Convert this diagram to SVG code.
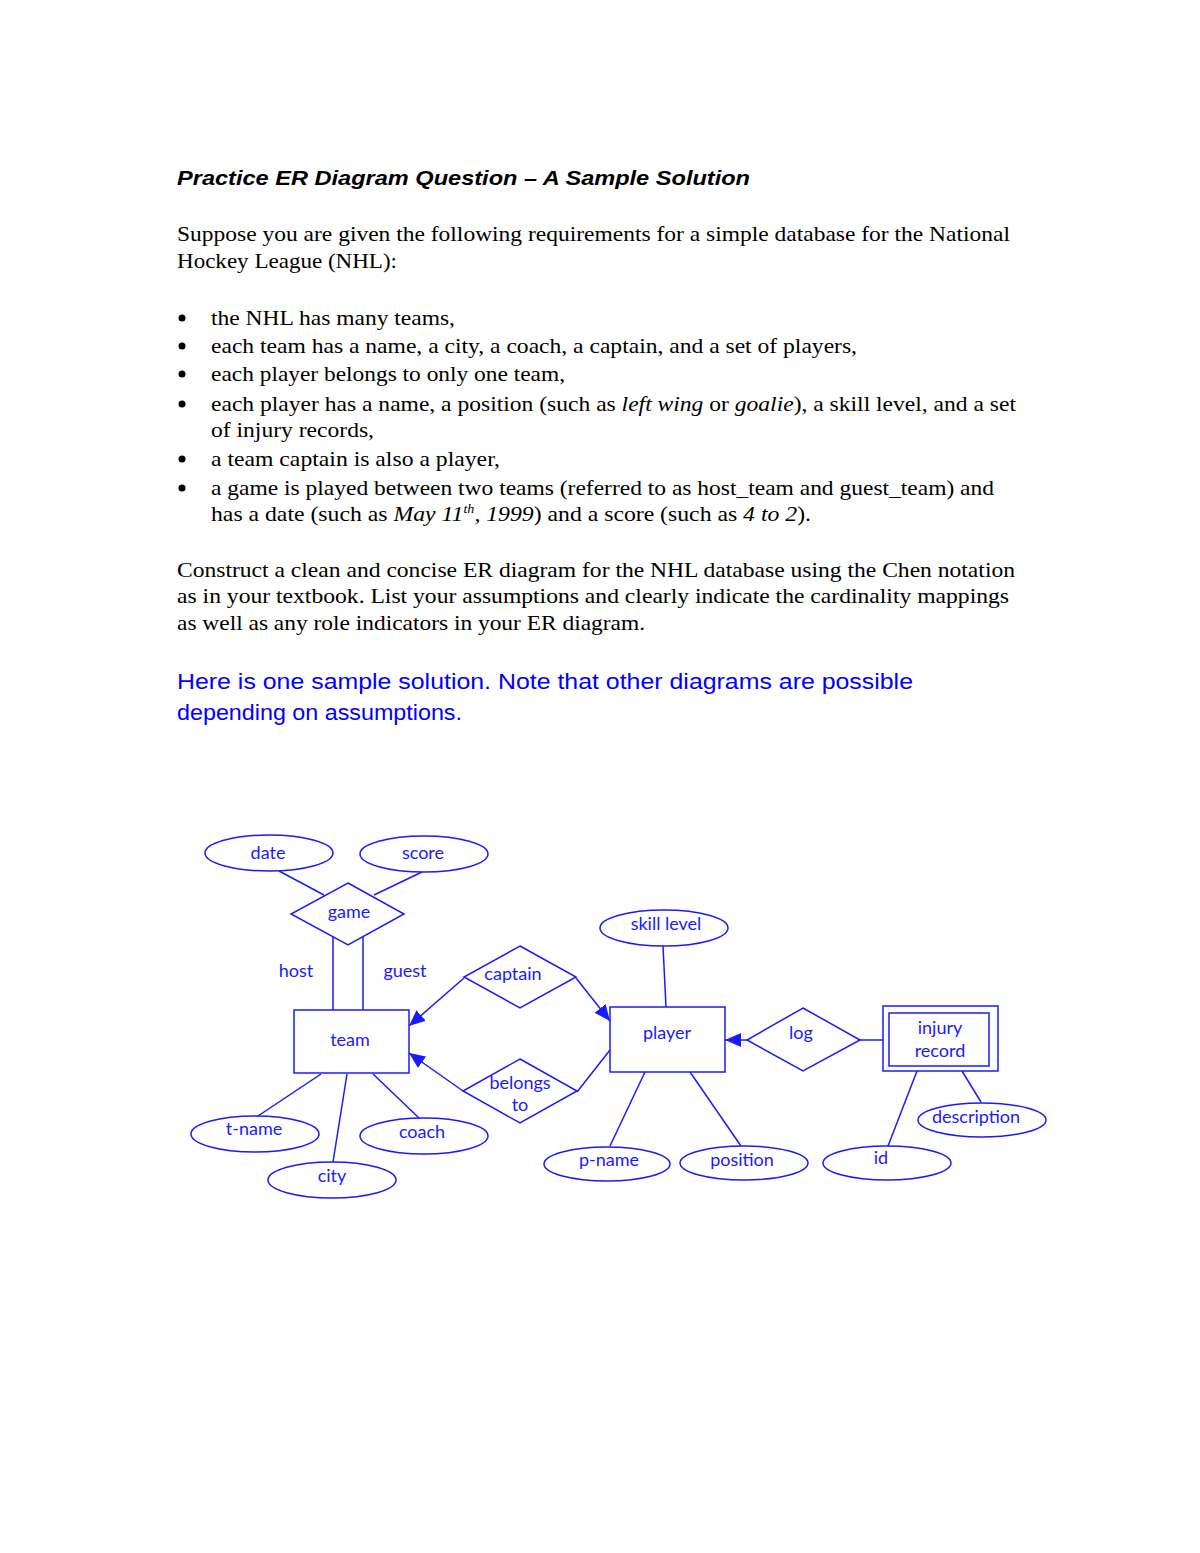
<svg xmlns="http://www.w3.org/2000/svg" width="1200" height="1553" viewBox="0 0 1200 1553">
<style>
.title{font-family:"Liberation Sans",Arial,sans-serif;font-weight:bold;font-style:italic;font-size:21px;fill:#000}
.body{font-family:"Liberation Serif","Times New Roman",serif;font-size:22px;fill:#000}
.blue{font-family:"Liberation Sans",Arial,sans-serif;font-size:22px;fill:#0000ff}
.shape{fill:none;stroke:#1a1aff;stroke-width:1.5}
.lbl{font-family:Lato,"Open Sans",sans-serif;font-size:18px;fill:#1a1aff;text-anchor:middle}
.conn line{stroke:#1a1aff;stroke-width:1.5}
</style>
<defs>
<marker id="arr" markerUnits="userSpaceOnUse" markerWidth="18" markerHeight="14" refX="16" refY="7" orient="auto">
<path d="M0,0 L16,7 L0,14 Z" fill="#1a1aff"/>
</marker>
</defs>
<rect width="1200" height="1553" fill="#fff"/>

<g id="text">
<text class="title" x="177" y="185" textLength="573" lengthAdjust="spacingAndGlyphs">Practice ER Diagram Question – A Sample Solution</text>
<text class="body" x="177" y="241" textLength="833" lengthAdjust="spacingAndGlyphs">Suppose you are given the following requirements for a simple database for the National</text>
<text class="body" x="177" y="268" textLength="220" lengthAdjust="spacingAndGlyphs">Hockey League (NHL):</text>
<g fill="#000">
<circle cx="182" cy="318" r="3.5"/>
<circle cx="182" cy="346" r="3.5"/>
<circle cx="182" cy="374" r="3.5"/>
<circle cx="182" cy="404" r="3.5"/>
<circle cx="182" cy="459" r="3.5"/>
<circle cx="182" cy="488" r="3.5"/>
</g>
<text class="body" x="211" y="325" textLength="244" lengthAdjust="spacingAndGlyphs">the NHL has many teams,</text>
<text class="body" x="211" y="353" textLength="646" lengthAdjust="spacingAndGlyphs">each team has a name, a city, a coach, a captain, and a set of players,</text>
<text class="body" x="211" y="381" textLength="354" lengthAdjust="spacingAndGlyphs">each player belongs to only one team,</text>
<text class="body" x="211" y="411" textLength="805" lengthAdjust="spacingAndGlyphs">each player has a name, a position (such as <tspan font-style="italic">left wing</tspan> or <tspan font-style="italic">goalie</tspan>), a skill level, and a set</text>
<text class="body" x="211" y="437" textLength="163" lengthAdjust="spacingAndGlyphs">of injury records,</text>
<text class="body" x="211" y="466" textLength="289" lengthAdjust="spacingAndGlyphs">a team captain is also a player,</text>
<text class="body" x="211" y="495" textLength="783" lengthAdjust="spacingAndGlyphs">a game is played between two teams (referred to as host_team and guest_team) and</text>
<text class="body" x="211" y="521" textLength="600" lengthAdjust="spacingAndGlyphs">has a date (such as <tspan font-style="italic">May 11<tspan font-size="13" dy="-8">th</tspan><tspan dy="8">, 1999</tspan></tspan>) and a score (such as <tspan font-style="italic">4 to 2</tspan>).</text>
<text class="body" x="177" y="577" textLength="838" lengthAdjust="spacingAndGlyphs">Construct a clean and concise ER diagram for the NHL database using the Chen notation</text>
<text class="body" x="177" y="603" textLength="832" lengthAdjust="spacingAndGlyphs">as in your textbook.  List your assumptions and clearly indicate the cardinality mappings</text>
<text class="body" x="177" y="630" textLength="468" lengthAdjust="spacingAndGlyphs">as well as any role indicators in your ER diagram.</text>
<text class="blue" x="177" y="689" textLength="736" lengthAdjust="spacingAndGlyphs">Here is one sample solution.  Note that other diagrams are possible</text>
<text class="blue" x="177" y="720" textLength="285" lengthAdjust="spacingAndGlyphs">depending on assumptions.</text>
</g>

<g id="connectors" class="conn">
<line x1="279" y1="871" x2="324" y2="895"/>
<line x1="422" y1="872" x2="374" y2="895"/>
<line x1="333" y1="937" x2="333" y2="1010"/>
<line x1="363" y1="937" x2="363" y2="1010"/>
<line x1="464" y1="978" x2="409" y2="1026" marker-end="url(#arr)"/>
<line x1="576" y1="978" x2="610" y2="1021" marker-end="url(#arr)"/>
<line x1="463" y1="1091" x2="409" y2="1053" marker-end="url(#arr)"/>
<line x1="577" y1="1092" x2="610" y2="1050"/>
<line x1="747" y1="1040" x2="725" y2="1040" marker-end="url(#arr)"/>
<line x1="860" y1="1040" x2="883" y2="1040"/>
<line x1="321" y1="1074" x2="258" y2="1116"/>
<line x1="347" y1="1074" x2="333" y2="1162"/>
<line x1="373" y1="1074" x2="419" y2="1118"/>
<line x1="663" y1="946" x2="666" y2="1007"/>
<line x1="645" y1="1072" x2="610" y2="1146"/>
<line x1="690" y1="1072" x2="741" y2="1146"/>
<line x1="917" y1="1071" x2="888" y2="1146"/>
<line x1="962" y1="1071" x2="981" y2="1102"/>
</g>

<g id="date"><ellipse class="shape" cx="269" cy="853" rx="64" ry="18"/><text class="lbl" x="268" y="859">date</text></g>
<g id="score"><ellipse class="shape" cx="424" cy="854" rx="64" ry="18"/><text class="lbl" x="423" y="859">score</text></g>
<g id="game"><polygon class="shape" points="348,883 404,914 348,945 291,914"/><text class="lbl" x="349" y="918">game</text></g>
<g id="host-label"><text class="lbl" x="296" y="977">host</text></g>
<g id="guest-label"><text class="lbl" x="405" y="977">guest</text></g>
<g id="team"><rect class="shape" x="294" y="1010" width="115" height="63"/><text class="lbl" x="350" y="1046">team</text></g>
<g id="captain"><polygon class="shape" points="520,946 576,977 520,1008 464,977"/><text class="lbl" x="513" y="980">captain</text></g>
<g id="belongs-to"><polygon class="shape" points="520,1059 577,1091 520,1123 463,1091"/><text class="lbl" x="520" y="1089">belongs</text><text class="lbl" x="520" y="1111">to</text></g>
<g id="player"><rect class="shape" x="610" y="1007" width="115" height="65"/><text class="lbl" x="667" y="1039">player</text></g>
<g id="skill-level"><ellipse class="shape" cx="664" cy="928" rx="64" ry="18"/><text class="lbl" x="666" y="930">skill level</text></g>
<g id="log"><polygon class="shape" points="803,1008 860,1040 803,1071 747,1040"/><text class="lbl" x="801" y="1039">log</text></g>
<g id="injury-record"><rect class="shape" x="883" y="1006" width="115" height="65"/><rect class="shape" x="889" y="1013" width="100" height="53"/><text class="lbl" x="940" y="1034">injury</text><text class="lbl" x="940" y="1057">record</text></g>
<g id="t-name"><ellipse class="shape" cx="255" cy="1134" rx="64" ry="18"/><text class="lbl" x="254" y="1135">t-name</text></g>
<g id="city"><ellipse class="shape" cx="332" cy="1180" rx="64" ry="18"/><text class="lbl" x="332" y="1182">city</text></g>
<g id="coach"><ellipse class="shape" cx="424" cy="1136" rx="64" ry="18"/><text class="lbl" x="422" y="1138">coach</text></g>
<g id="p-name"><ellipse class="shape" cx="607" cy="1164" rx="63" ry="17"/><text class="lbl" x="609" y="1166">p-name</text></g>
<g id="position"><ellipse class="shape" cx="744" cy="1163" rx="64" ry="17"/><text class="lbl" x="742" y="1166">position</text></g>
<g id="id"><ellipse class="shape" cx="887" cy="1163" rx="64" ry="17"/><text class="lbl" x="881" y="1164">id</text></g>
<g id="description"><ellipse class="shape" cx="982" cy="1120" rx="64" ry="17"/><text class="lbl" x="976" y="1123">description</text></g>
</svg>
